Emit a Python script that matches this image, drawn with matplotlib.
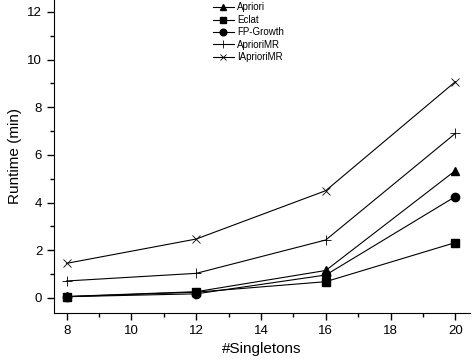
import numpy as np
import matplotlib
matplotlib.use("Agg")
from matplotlib import pyplot as plt
from matplotlib.ticker import MultipleLocator

plt.rcParams['font.family'] = ['Liberation Sans', 'DejaVu Sans']

# data
singletons = [8, 12, 16, 20]
apriori = [0.06, 0.26, 1.15, 5.34]
eclat = [0.05, 0.24, 0.68, 2.32]
fp_growth = [0.05, 0.17, 0.96, 4.25]
apriori_mr = [0.71, 1.03, 2.43, 6.9]
iapriori_mr = [1.45, 2.47, 4.5, 9.07]

fig = plt.figure(figsize=(4.74, 3.63), dpi=100)
ax = fig.add_axes([0.114, 0.138, 0.878, 0.862])

ax.plot(singletons, apriori, color='black', lw=0.8, marker='^', ms=6, label='Apriori')
ax.plot(singletons, eclat, color='black', lw=0.8, marker='s', ms=5.5, label='Eclat')
ax.plot(singletons, fp_growth, color='black', lw=0.8, marker='o', ms=6, label='FP-Growth')
ax.plot(singletons, apriori_mr, color='black', lw=0.8, marker='+', ms=6.5, mew=0.6, label='AprioriMR')
ax.plot(singletons, iapriori_mr, color='black', lw=0.8, marker='x', ms=6, mew=0.6, label='IAprioriMR')

ax.set_xlim(7.61, 20.46)
ax.set_ylim(-0.63, 12.5)
ax.xaxis.set_major_locator(MultipleLocator(2))
ax.xaxis.set_minor_locator(MultipleLocator(1))
ax.yaxis.set_major_locator(MultipleLocator(2))
ax.yaxis.set_minor_locator(MultipleLocator(1))
ax.tick_params(which='major', direction='out', length=5, width=1, labelsize=9.5)
ax.tick_params(which='minor', direction='out', length=3, width=1)
ax.spines['top'].set_visible(False)
ax.spines['right'].set_visible(False)

ax.set_xlabel('#Singletons', fontsize=11)
ax.set_ylabel('Runtime (min)', fontsize=11)

leg = ax.legend(loc='upper left', bbox_to_anchor=(0.36, 1.02), frameon=False,
                fontsize=7, handlelength=2.2, labelspacing=0.25, handletextpad=0.3,
                markerscale=0.8)

fig.savefig('out.png', dpi=100)
